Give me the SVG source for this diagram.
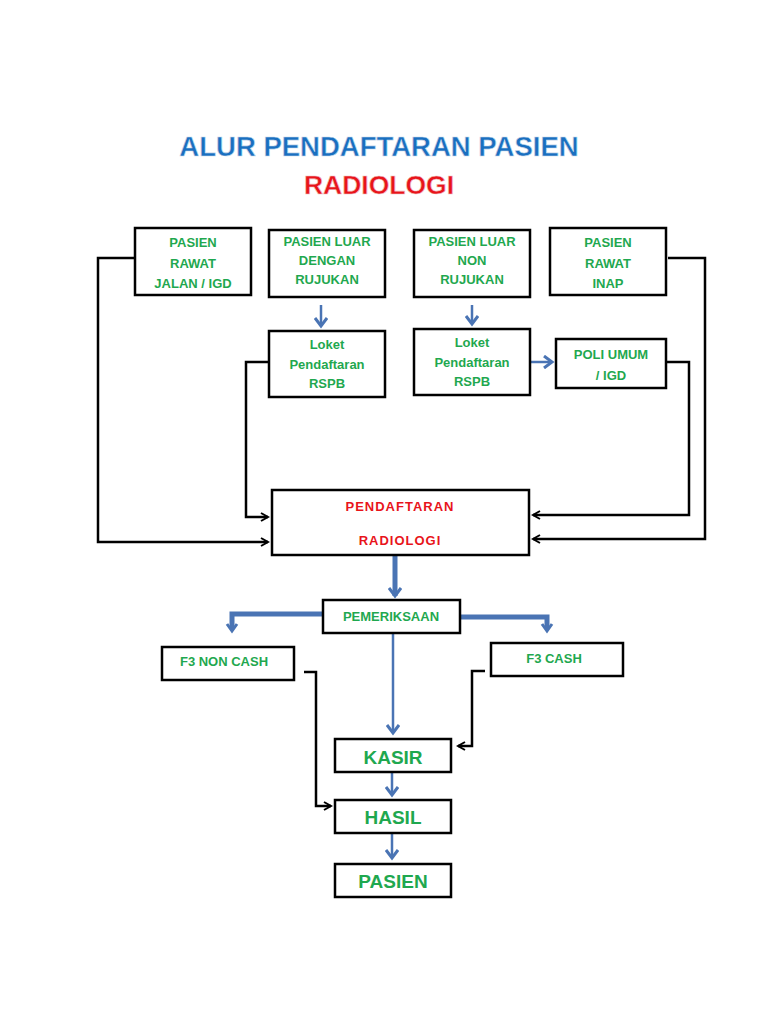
<svg xmlns="http://www.w3.org/2000/svg" width="768" height="1024" viewBox="0 0 768 1024">
<style>
.b{fill:#fff;stroke:#000;stroke-width:2.5}
.t{font-family:"Liberation Sans",Arial,sans-serif;font-weight:bold;fill:#1fa84f;text-anchor:middle;font-size:13px}
.k{fill:none;stroke:#000;stroke-width:2.5}
.u{fill:none;stroke:#4a74b4;stroke-width:2.5}
.w{fill:none;stroke:#4a74b4;stroke-width:5}
</style>
<defs>
<marker id="ab" markerWidth="10" markerHeight="10" refX="8" refY="5" orient="auto" markerUnits="userSpaceOnUse"><path d="M1,1 L8,5 L1,9" fill="none" stroke="#000" stroke-width="2"/></marker>
<marker id="au" markerWidth="14" markerHeight="14" refX="10" refY="7" orient="auto" markerUnits="userSpaceOnUse"><path d="M2,1 L10,7 L2,13" fill="none" stroke="#4a74b4" stroke-width="3"/></marker>
</defs>
<text x="379" y="156" text-anchor="middle" font-family="Liberation Sans,Arial,sans-serif" font-weight="bold" font-size="27.5" fill="#1a6fbf" stroke="#c8d8ea" stroke-width="0.6">ALUR PENDAFTARAN PASIEN</text>
<text x="379" y="194" text-anchor="middle" font-family="Liberation Sans,Arial,sans-serif" font-weight="bold" font-size="26.5" fill="#e8141b" stroke="#f0c0c0" stroke-width="0.6">RADIOLOGI</text>
<g id="connectors">
<path class="k" d="M135,258 H98 V542 H268" marker-end="url(#ab)"/>
<path class="k" d="M268,362 H246 V517 H268" marker-end="url(#ab)"/>
<path class="k" d="M668,258 H705 V539 H533" marker-end="url(#ab)"/>
<path class="k" d="M666,362 H689 V515 H533" marker-end="url(#ab)"/>
<path class="u" d="M321,305 V326" marker-end="url(#au)"/>
<path class="u" d="M472,305 V324" marker-end="url(#au)"/>
<path class="u" d="M530,362 H552" marker-end="url(#au)"/>
<path class="w" d="M395,556 V596" marker-end="url(#au)"/>
<path class="w" d="M323,614 H232 V629"/>
<path d="M227,624 L232,631 L237,624" fill="none" stroke="#4a74b4" stroke-width="3"/>
<path class="w" d="M460,617 H547 V629"/>
<path d="M542,624 L547,631 L552,624" fill="none" stroke="#4a74b4" stroke-width="3"/>
<path class="u" d="M393,634 V733" marker-end="url(#au)"/>
<path class="k" d="M304,672 H316 V806 H331" marker-end="url(#ab)"/>
<path class="k" d="M485,671 H472 V746 H458" marker-end="url(#ab)"/>
<path class="u" d="M392,773 V795" marker-end="url(#au)"/>
<path class="u" d="M392,834 V858" marker-end="url(#au)"/>
</g>
<g id="n1"><rect class="b" x="135" y="228" width="116" height="67"/><text class="t" x="193" y="247">PASIEN</text><text class="t" x="193" y="268">RAWAT</text><text class="t" x="193" y="288">JALAN / IGD</text></g>
<g id="n2"><rect class="b" x="269" y="230" width="116" height="67"/><text class="t" x="327" y="246">PASIEN LUAR</text><text class="t" x="327" y="265">DENGAN</text><text class="t" x="327" y="284">RUJUKAN</text></g>
<g id="n3"><rect class="b" x="414" y="230" width="116" height="67"/><text class="t" x="472" y="246">PASIEN LUAR</text><text class="t" x="472" y="265">NON</text><text class="t" x="472" y="284">RUJUKAN</text></g>
<g id="n4"><rect class="b" x="550" y="228" width="116" height="67"/><text class="t" x="608" y="247">PASIEN</text><text class="t" x="608" y="268">RAWAT</text><text class="t" x="608" y="288">INAP</text></g>
<g id="n5"><rect class="b" x="269" y="331" width="116" height="66"/><text class="t" x="327" y="349">Loket</text><text class="t" x="327" y="369">Pendaftaran</text><text class="t" x="327" y="388">RSPB</text></g>
<g id="n6"><rect class="b" x="414" y="329" width="116" height="66"/><text class="t" x="472" y="347">Loket</text><text class="t" x="472" y="367">Pendaftaran</text><text class="t" x="472" y="386">RSPB</text></g>
<g id="n7"><rect class="b" x="556" y="339" width="110" height="49"/><text class="t" x="611" y="359">POLI UMUM</text><text class="t" x="611" y="380">/ IGD</text></g>
<g id="n8"><rect class="b" x="272" y="490" width="257" height="65"/><text class="t" x="400" y="511" style="fill:#e8141b;letter-spacing:1px">PENDAFTARAN</text><text class="t" x="400" y="545" style="fill:#e8141b;letter-spacing:1px">RADIOLOGI</text></g>
<g id="n9"><rect class="b" x="323" y="600" width="137" height="33"/><text class="t" x="391" y="621">PEMERIKSAAN</text></g>
<g id="n10"><rect class="b" x="162" y="647" width="132" height="33"/><text class="t" x="224" y="666">F3 NON CASH</text></g>
<g id="n11"><rect class="b" x="491" y="643" width="132" height="33"/><text class="t" x="554" y="663">F3 CASH</text></g>
<g id="n12"><rect class="b" x="335" y="739" width="116" height="33"/><text class="t" x="393" y="764" style="font-size:19px">KASIR</text></g>
<g id="n13"><rect class="b" x="335" y="800" width="116" height="33"/><text class="t" x="393" y="824" style="font-size:19px">HASIL</text></g>
<g id="n14"><rect class="b" x="335" y="864" width="116" height="33"/><text class="t" x="393" y="888" style="font-size:19px">PASIEN</text></g>
</svg>
